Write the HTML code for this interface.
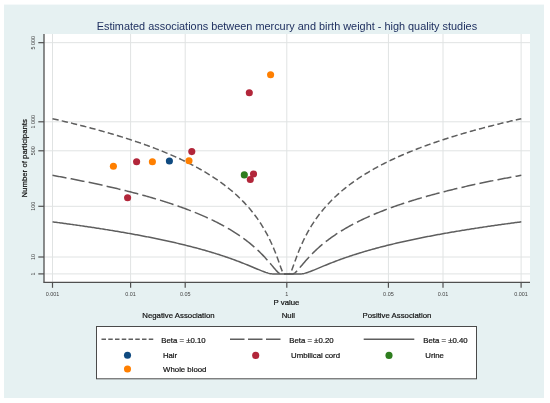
<!DOCTYPE html><html><head><meta charset="utf-8"><title>Albatross plot</title>
<style>html,body{margin:0;padding:0;background:#fff}svg{display:block}text{font-family:"Liberation Sans",Arial,sans-serif}</style></head><body>
<svg width="550" height="403" viewBox="0 0 550 403">
<rect x="0" y="0" width="550" height="403" fill="#ffffff"/>
<rect x="4" y="4.6" width="540" height="393.4" fill="#e6f1f2"/>
<rect x="44" y="34" width="486" height="248" fill="#ffffff"/>
<line x1="44" y1="273.90" x2="530" y2="273.90" stroke="#e0e3e3" stroke-width="1"/>
<line x1="44" y1="257.00" x2="530" y2="257.00" stroke="#e0e3e3" stroke-width="1"/>
<line x1="44" y1="206.30" x2="530" y2="206.30" stroke="#e0e3e3" stroke-width="1"/>
<line x1="44" y1="150.79" x2="530" y2="150.79" stroke="#e0e3e3" stroke-width="1"/>
<line x1="44" y1="121.80" x2="530" y2="121.80" stroke="#e0e3e3" stroke-width="1"/>
<line x1="44" y1="42.67" x2="530" y2="42.67" stroke="#e0e3e3" stroke-width="1"/>
<line x1="52.50" y1="34" x2="52.50" y2="282" stroke="#e0e3e3" stroke-width="1"/>
<line x1="130.60" y1="34" x2="130.60" y2="282" stroke="#e0e3e3" stroke-width="1"/>
<line x1="185.19" y1="34" x2="185.19" y2="282" stroke="#e0e3e3" stroke-width="1"/>
<line x1="286.80" y1="34" x2="286.80" y2="282" stroke="#e0e3e3" stroke-width="1"/>
<line x1="388.41" y1="34" x2="388.41" y2="282" stroke="#e0e3e3" stroke-width="1"/>
<line x1="443.00" y1="34" x2="443.00" y2="282" stroke="#e0e3e3" stroke-width="1"/>
<line x1="521.10" y1="34" x2="521.10" y2="282" stroke="#e0e3e3" stroke-width="1"/>
<path d="M52.50,118.73 L53.67,118.99 L54.84,119.25 L56.02,119.52 L57.19,119.79 L58.36,120.06 L59.53,120.33 L60.70,120.60 L61.88,120.87 L63.05,121.14 L64.22,121.42 L65.39,121.69 L66.56,121.97 L67.74,122.25 L68.91,122.53 L70.08,122.81 L71.25,123.10 L72.42,123.38 L73.60,123.67 L74.77,123.96 L75.94,124.24 L77.11,124.54 L78.28,124.83 L79.46,125.12 L80.63,125.42 L81.80,125.71 L82.97,126.01 L84.14,126.31 L85.32,126.61 L86.49,126.92 L87.66,127.22 L88.83,127.53 L90.00,127.84 L91.18,128.15 L92.35,128.46 L93.52,128.77 L94.69,129.09 L95.86,129.41 L97.04,129.73 L98.21,130.05 L99.38,130.37 L100.55,130.69 L101.72,131.02 L102.90,131.35 L104.07,131.68 L105.24,132.01 L106.41,132.35 L107.58,132.68 L108.76,133.02 L109.93,133.36 L111.10,133.71 L112.27,134.05 L113.44,134.40 L114.62,134.75 L115.79,135.10 L116.96,135.45 L118.13,135.81 L119.30,136.17 L120.48,136.53 L121.65,136.89 L122.82,137.26 L123.99,137.62 L125.16,137.99 L126.34,138.37 L127.51,138.74 L128.68,139.12 L129.85,139.50 L131.02,139.88 L132.20,140.27 L133.37,140.66 L134.54,141.05 L135.71,141.45 L136.88,141.84 L138.06,142.24 L139.23,142.65 L140.40,143.05 L141.57,143.46 L142.74,143.87 L143.92,144.29 L145.09,144.71 L146.26,145.13 L147.43,145.55 L148.60,145.98 L149.78,146.41 L150.95,146.85 L152.12,147.29 L153.29,147.73 L154.46,148.17 L155.64,148.62 L156.81,149.08 L157.98,149.53 L159.15,150.00 L160.32,150.46 L161.50,150.93 L162.67,151.40 L163.84,151.88 L165.01,152.36 L166.18,152.85 L167.36,153.34 L168.53,153.83 L169.70,154.33 L170.87,154.83 L172.04,155.34 L173.22,155.85 L174.39,156.37 L175.56,156.89 L176.73,157.42 L177.90,157.96 L179.08,158.49 L180.25,159.04 L181.42,159.59 L182.59,160.14 L183.76,160.71 L184.94,161.27 L186.11,161.84 L187.28,162.42 L188.45,163.01 L189.62,163.60 L190.80,164.20 L191.97,164.80 L193.14,165.42 L194.31,166.04 L195.48,166.66 L196.66,167.30 L197.83,167.94 L199.00,168.59 L200.17,169.24 L201.34,169.91 L202.52,170.58 L203.69,171.26 L204.86,171.95 L206.03,172.65 L207.20,173.36 L208.38,174.08 L209.55,174.81 L210.72,175.55 L211.89,176.29 L213.06,177.05 L214.24,177.82 L215.41,178.61 L216.58,179.40 L217.75,180.20 L218.92,181.02 L220.10,181.85 L221.27,182.69 L222.44,183.55 L223.61,184.42 L224.78,185.30 L225.96,186.20 L227.13,187.12 L228.30,188.05 L229.47,189.00 L230.64,189.96 L231.82,190.94 L232.99,191.94 L234.16,192.96 L235.33,194.00 L236.50,195.06 L237.68,196.14 L238.85,197.25 L240.02,198.37 L241.19,199.52 L242.36,200.70 L243.54,201.90 L244.71,203.13 L245.88,204.39 L247.05,205.68 L248.22,207.00 L249.40,208.36 L250.57,209.75 L251.74,211.17 L252.91,212.64 L254.08,214.14 L255.26,215.69 L256.43,217.29 L257.60,218.93 L258.77,220.62 L259.94,222.37 L261.12,224.18 L262.29,226.04 L263.46,227.97 L264.63,229.98 L265.80,232.05 L266.98,234.21 L268.15,236.45 L269.32,238.79 L270.49,241.22 L271.66,243.76 L272.84,246.41 L274.01,249.18 L275.18,252.07 L276.35,255.09 L277.52,258.23 L278.70,261.49 L279.87,264.81 L281.04,268.12 L282.21,271.20 L283.38,273.49 L284.56,273.90 L285.73,273.90 L286.90,273.90 L288.07,273.90 L289.24,273.90 L290.42,273.20 L291.59,270.71 L292.76,267.57 L293.93,264.24 L295.10,260.92 L296.28,257.69 L297.45,254.56 L298.62,251.57 L299.79,248.69 L300.96,245.95 L302.14,243.32 L303.31,240.80 L304.48,238.38 L305.65,236.06 L306.82,233.84 L308.00,231.69 L309.17,229.63 L310.34,227.64 L311.51,225.72 L312.68,223.86 L313.86,222.07 L315.03,220.33 L316.20,218.64 L317.37,217.01 L318.54,215.42 L319.72,213.88 L320.89,212.38 L322.06,210.93 L323.23,209.51 L324.40,208.12 L325.58,206.77 L326.75,205.46 L327.92,204.17 L329.09,202.92 L330.26,201.69 L331.44,200.50 L332.61,199.32 L333.78,198.18 L334.95,197.06 L336.12,195.96 L337.30,194.88 L338.47,193.82 L339.64,192.79 L340.81,191.77 L341.98,190.77 L343.16,189.79 L344.33,188.83 L345.50,187.89 L346.67,186.96 L347.84,186.05 L349.02,185.15 L350.19,184.27 L351.36,183.40 L352.53,182.55 L353.70,181.71 L354.88,180.88 L356.05,180.06 L357.22,179.26 L358.39,178.47 L359.56,177.69 L360.74,176.92 L361.91,176.17 L363.08,175.42 L364.25,174.68 L365.42,173.96 L366.60,173.24 L367.77,172.53 L368.94,171.83 L370.11,171.15 L371.28,170.47 L372.46,169.79 L373.63,169.13 L374.80,168.47 L375.97,167.83 L377.14,167.19 L378.32,166.55 L379.49,165.93 L380.66,165.31 L381.83,164.70 L383.00,164.10 L384.18,163.50 L385.35,162.91 L386.52,162.32 L387.69,161.75 L388.86,161.17 L390.04,160.61 L391.21,160.05 L392.38,159.49 L393.55,158.95 L394.72,158.40 L395.90,157.86 L397.07,157.33 L398.24,156.81 L399.41,156.28 L400.58,155.77 L401.76,155.25 L402.93,154.75 L404.10,154.24 L405.27,153.75 L406.44,153.25 L407.62,152.76 L408.79,152.28 L409.96,151.80 L411.13,151.32 L412.30,150.85 L413.48,150.38 L414.65,149.92 L415.82,149.46 L416.99,149.00 L418.16,148.55 L419.34,148.10 L420.51,147.65 L421.68,147.21 L422.85,146.77 L424.02,146.34 L425.20,145.91 L426.37,145.48 L427.54,145.06 L428.71,144.63 L429.88,144.22 L431.06,143.80 L432.23,143.39 L433.40,142.98 L434.57,142.58 L435.74,142.17 L436.92,141.77 L438.09,141.38 L439.26,140.98 L440.43,140.59 L441.60,140.20 L442.78,139.82 L443.95,139.44 L445.12,139.06 L446.29,138.68 L447.46,138.30 L448.64,137.93 L449.81,137.56 L450.98,137.19 L452.15,136.83 L453.32,136.47 L454.50,136.11 L455.67,135.75 L456.84,135.39 L458.01,135.04 L459.18,134.69 L460.36,134.34 L461.53,133.99 L462.70,133.65 L463.87,133.30 L465.04,132.96 L466.22,132.63 L467.39,132.29 L468.56,131.96 L469.73,131.62 L470.90,131.29 L472.08,130.97 L473.25,130.64 L474.42,130.31 L475.59,129.99 L476.76,129.67 L477.94,129.35 L479.11,129.04 L480.28,128.72 L481.45,128.41 L482.62,128.10 L483.80,127.79 L484.97,127.48 L486.14,127.17 L487.31,126.87 L488.48,126.56 L489.66,126.26 L490.83,125.96 L492.00,125.66 L493.17,125.37 L494.34,125.07 L495.52,124.78 L496.69,124.49 L497.86,124.20 L499.03,123.91 L500.20,123.62 L501.38,123.33 L502.55,123.05 L503.72,122.77 L504.89,122.48 L506.06,122.20 L507.24,121.92 L508.41,121.65 L509.58,121.37 L510.75,121.10 L511.92,120.82 L513.10,120.55 L514.27,120.28 L515.44,120.01 L516.61,119.74 L517.78,119.47 L518.96,119.21 L520.13,118.94 L521.30,118.68" fill="none" stroke="#5e5e5e" stroke-width="1.5" stroke-dasharray="6.3 3.2"/>
<path d="M52.50,175.36 L53.67,175.57 L54.84,175.78 L56.02,175.99 L57.19,176.20 L58.36,176.42 L59.53,176.63 L60.70,176.85 L61.88,177.06 L63.05,177.28 L64.22,177.50 L65.39,177.72 L66.56,177.94 L67.74,178.16 L68.91,178.38 L70.08,178.61 L71.25,178.83 L72.42,179.06 L73.60,179.29 L74.77,179.52 L75.94,179.74 L77.11,179.98 L78.28,180.21 L79.46,180.44 L80.63,180.67 L81.80,180.91 L82.97,181.15 L84.14,181.38 L85.32,181.62 L86.49,181.86 L87.66,182.10 L88.83,182.35 L90.00,182.59 L91.18,182.84 L92.35,183.08 L93.52,183.33 L94.69,183.58 L95.86,183.83 L97.04,184.08 L98.21,184.33 L99.38,184.59 L100.55,184.85 L101.72,185.10 L102.90,185.36 L104.07,185.62 L105.24,185.88 L106.41,186.15 L107.58,186.41 L108.76,186.68 L109.93,186.95 L111.10,187.22 L112.27,187.49 L113.44,187.76 L114.62,188.04 L115.79,188.31 L116.96,188.59 L118.13,188.87 L119.30,189.15 L120.48,189.43 L121.65,189.72 L122.82,190.00 L123.99,190.29 L125.16,190.58 L126.34,190.87 L127.51,191.17 L128.68,191.46 L129.85,191.76 L131.02,192.06 L132.20,192.36 L133.37,192.67 L134.54,192.97 L135.71,193.28 L136.88,193.59 L138.06,193.90 L139.23,194.21 L140.40,194.53 L141.57,194.85 L142.74,195.17 L143.92,195.49 L145.09,195.82 L146.26,196.15 L147.43,196.48 L148.60,196.81 L149.78,197.14 L150.95,197.48 L152.12,197.82 L153.29,198.16 L154.46,198.51 L155.64,198.86 L156.81,199.21 L157.98,199.56 L159.15,199.92 L160.32,200.28 L161.50,200.64 L162.67,201.00 L163.84,201.37 L165.01,201.74 L166.18,202.12 L167.36,202.49 L168.53,202.87 L169.70,203.26 L170.87,203.64 L172.04,204.04 L173.22,204.43 L174.39,204.83 L175.56,205.23 L176.73,205.63 L177.90,206.04 L179.08,206.45 L180.25,206.87 L181.42,207.29 L182.59,207.71 L183.76,208.14 L184.94,208.57 L186.11,209.01 L187.28,209.45 L188.45,209.89 L189.62,210.34 L190.80,210.80 L191.97,211.25 L193.14,211.72 L194.31,212.19 L195.48,212.66 L196.66,213.14 L197.83,213.62 L199.00,214.11 L200.17,214.61 L201.34,215.11 L202.52,215.61 L203.69,216.12 L204.86,216.64 L206.03,217.17 L207.20,217.70 L208.38,218.23 L209.55,218.78 L210.72,219.33 L211.89,219.88 L213.06,220.45 L214.24,221.02 L215.41,221.60 L216.58,222.19 L217.75,222.78 L218.92,223.38 L220.10,224.00 L221.27,224.62 L222.44,225.24 L223.61,225.88 L224.78,226.53 L225.96,227.19 L227.13,227.85 L228.30,228.53 L229.47,229.22 L230.64,229.92 L231.82,230.63 L232.99,231.35 L234.16,232.08 L235.33,232.83 L236.50,233.59 L237.68,234.36 L238.85,235.15 L240.02,235.95 L241.19,236.76 L242.36,237.59 L243.54,238.44 L244.71,239.30 L245.88,240.18 L247.05,241.07 L248.22,241.99 L249.40,242.92 L250.57,243.87 L251.74,244.85 L252.91,245.84 L254.08,246.86 L255.26,247.90 L256.43,248.96 L257.60,250.04 L258.77,251.15 L259.94,252.29 L261.12,253.46 L262.29,254.65 L263.46,255.86 L264.63,257.11 L265.80,258.39 L266.98,259.69 L268.15,261.02 L269.32,262.37 L270.49,263.75 L271.66,265.14 L272.84,266.54 L274.01,267.93 L275.18,269.31 L276.35,270.63 L277.52,271.86 L278.70,272.91 L279.87,273.67 L281.04,273.90 L282.21,273.90 L283.38,273.90 L284.56,273.90 L285.73,273.90 L286.90,273.90 L288.07,273.90 L289.24,273.90 L290.42,273.90 L291.59,273.90 L292.76,273.90 L293.93,273.57 L295.10,272.75 L296.28,271.66 L297.45,270.41 L298.62,269.08 L299.79,267.70 L300.96,266.30 L302.14,264.90 L303.31,263.51 L304.48,262.14 L305.65,260.79 L306.82,259.46 L308.00,258.17 L309.17,256.90 L310.34,255.65 L311.51,254.44 L312.68,253.25 L313.86,252.10 L315.03,250.96 L316.20,249.86 L317.37,248.77 L318.54,247.72 L319.72,246.68 L320.89,245.67 L322.06,244.68 L323.23,243.71 L324.40,242.76 L325.58,241.83 L326.75,240.92 L327.92,240.03 L329.09,239.15 L330.26,238.29 L331.44,237.45 L332.61,236.62 L333.78,235.81 L334.95,235.01 L336.12,234.23 L337.30,233.46 L338.47,232.70 L339.64,231.96 L340.81,231.23 L341.98,230.51 L343.16,229.80 L344.33,229.10 L345.50,228.41 L346.67,227.74 L347.84,227.07 L349.02,226.42 L350.19,225.77 L351.36,225.14 L352.53,224.51 L353.70,223.89 L354.88,223.28 L356.05,222.68 L357.22,222.09 L358.39,221.50 L359.56,220.92 L360.74,220.35 L361.91,219.79 L363.08,219.23 L364.25,218.68 L365.42,218.14 L366.60,217.61 L367.77,217.08 L368.94,216.55 L370.11,216.04 L371.28,215.53 L372.46,215.02 L373.63,214.52 L374.80,214.03 L375.97,213.54 L377.14,213.06 L378.32,212.58 L379.49,212.11 L380.66,211.64 L381.83,211.18 L383.00,210.72 L384.18,210.26 L385.35,209.82 L386.52,209.37 L387.69,208.93 L388.86,208.50 L390.04,208.07 L391.21,207.64 L392.38,207.22 L393.55,206.80 L394.72,206.38 L395.90,205.97 L397.07,205.56 L398.24,205.16 L399.41,204.76 L400.58,204.36 L401.76,203.97 L402.93,203.58 L404.10,203.19 L405.27,202.81 L406.44,202.43 L407.62,202.05 L408.79,201.68 L409.96,201.31 L411.13,200.94 L412.30,200.58 L413.48,200.22 L414.65,199.86 L415.82,199.50 L416.99,199.15 L418.16,198.80 L419.34,198.45 L420.51,198.11 L421.68,197.76 L422.85,197.42 L424.02,197.09 L425.20,196.75 L426.37,196.42 L427.54,196.09 L428.71,195.76 L429.88,195.44 L431.06,195.12 L432.23,194.80 L433.40,194.48 L434.57,194.16 L435.74,193.85 L436.92,193.54 L438.09,193.23 L439.26,192.92 L440.43,192.61 L441.60,192.31 L442.78,192.01 L443.95,191.71 L445.12,191.41 L446.29,191.12 L447.46,190.82 L448.64,190.53 L449.81,190.24 L450.98,189.95 L452.15,189.67 L453.32,189.38 L454.50,189.10 L455.67,188.82 L456.84,188.54 L458.01,188.26 L459.18,187.99 L460.36,187.71 L461.53,187.44 L462.70,187.17 L463.87,186.90 L465.04,186.63 L466.22,186.37 L467.39,186.10 L468.56,185.84 L469.73,185.58 L470.90,185.32 L472.08,185.06 L473.25,184.80 L474.42,184.55 L475.59,184.29 L476.76,184.04 L477.94,183.79 L479.11,183.54 L480.28,183.29 L481.45,183.04 L482.62,182.79 L483.80,182.55 L484.97,182.30 L486.14,182.06 L487.31,181.82 L488.48,181.58 L489.66,181.34 L490.83,181.11 L492.00,180.87 L493.17,180.63 L494.34,180.40 L495.52,180.17 L496.69,179.94 L497.86,179.71 L499.03,179.48 L500.20,179.25 L501.38,179.02 L502.55,178.79 L503.72,178.57 L504.89,178.35 L506.06,178.12 L507.24,177.90 L508.41,177.68 L509.58,177.46 L510.75,177.24 L511.92,177.03 L513.10,176.81 L514.27,176.59 L515.44,176.38 L516.61,176.17 L517.78,175.95 L518.96,175.74 L520.13,175.53 L521.30,175.32" fill="none" stroke="#5e5e5e" stroke-width="1.5" stroke-dasharray="14.2 4.2"/>
<path d="M52.50,221.87 L53.67,222.02 L54.84,222.17 L56.02,222.33 L57.19,222.48 L58.36,222.63 L59.53,222.79 L60.70,222.95 L61.88,223.10 L63.05,223.26 L64.22,223.42 L65.39,223.58 L66.56,223.74 L67.74,223.90 L68.91,224.06 L70.08,224.22 L71.25,224.38 L72.42,224.55 L73.60,224.71 L74.77,224.88 L75.94,225.04 L77.11,225.21 L78.28,225.37 L79.46,225.54 L80.63,225.71 L81.80,225.88 L82.97,226.05 L84.14,226.22 L85.32,226.39 L86.49,226.56 L87.66,226.74 L88.83,226.91 L90.00,227.08 L91.18,227.26 L92.35,227.44 L93.52,227.61 L94.69,227.79 L95.86,227.97 L97.04,228.15 L98.21,228.33 L99.38,228.51 L100.55,228.70 L101.72,228.88 L102.90,229.06 L104.07,229.25 L105.24,229.43 L106.41,229.62 L107.58,229.81 L108.76,230.00 L109.93,230.19 L111.10,230.38 L112.27,230.57 L113.44,230.77 L114.62,230.96 L115.79,231.15 L116.96,231.35 L118.13,231.55 L119.30,231.75 L120.48,231.95 L121.65,232.15 L122.82,232.35 L123.99,232.55 L125.16,232.76 L126.34,232.96 L127.51,233.17 L128.68,233.37 L129.85,233.58 L131.02,233.79 L132.20,234.00 L133.37,234.22 L134.54,234.43 L135.71,234.64 L136.88,234.86 L138.06,235.08 L139.23,235.30 L140.40,235.52 L141.57,235.74 L142.74,235.96 L143.92,236.18 L145.09,236.41 L146.26,236.64 L147.43,236.87 L148.60,237.10 L149.78,237.33 L150.95,237.56 L152.12,237.79 L153.29,238.03 L154.46,238.27 L155.64,238.51 L156.81,238.75 L157.98,238.99 L159.15,239.23 L160.32,239.48 L161.50,239.73 L162.67,239.98 L163.84,240.23 L165.01,240.48 L166.18,240.73 L167.36,240.99 L168.53,241.25 L169.70,241.51 L170.87,241.77 L172.04,242.03 L173.22,242.30 L174.39,242.57 L175.56,242.84 L176.73,243.11 L177.90,243.38 L179.08,243.66 L180.25,243.94 L181.42,244.22 L182.59,244.50 L183.76,244.78 L184.94,245.07 L186.11,245.36 L187.28,245.65 L188.45,245.95 L189.62,246.24 L190.80,246.54 L191.97,246.85 L193.14,247.15 L194.31,247.46 L195.48,247.77 L196.66,248.08 L197.83,248.39 L199.00,248.71 L200.17,249.03 L201.34,249.36 L202.52,249.68 L203.69,250.01 L204.86,250.34 L206.03,250.68 L207.20,251.02 L208.38,251.36 L209.55,251.71 L210.72,252.05 L211.89,252.41 L213.06,252.76 L214.24,253.12 L215.41,253.48 L216.58,253.85 L217.75,254.22 L218.92,254.59 L220.10,254.97 L221.27,255.35 L222.44,255.74 L223.61,256.13 L224.78,256.52 L225.96,256.92 L227.13,257.32 L228.30,257.72 L229.47,258.13 L230.64,258.55 L231.82,258.96 L232.99,259.39 L234.16,259.81 L235.33,260.25 L236.50,260.68 L237.68,261.12 L238.85,261.57 L240.02,262.02 L241.19,262.47 L242.36,262.93 L243.54,263.39 L244.71,263.86 L245.88,264.33 L247.05,264.80 L248.22,265.28 L249.40,265.76 L250.57,266.25 L251.74,266.74 L252.91,267.22 L254.08,267.72 L255.26,268.21 L256.43,268.70 L257.60,269.19 L258.77,269.67 L259.94,270.16 L261.12,270.63 L262.29,271.10 L263.46,271.55 L264.63,271.98 L265.80,272.40 L266.98,272.78 L268.15,273.13 L269.32,273.43 L270.49,273.68 L271.66,273.84 L272.84,273.90 L274.01,273.90 L275.18,273.90 L276.35,273.90 L277.52,273.90 L278.70,273.90 L279.87,273.90 L281.04,273.90 L282.21,273.90 L283.38,273.90 L284.56,273.90 L285.73,273.90 L286.90,273.90 L288.07,273.90 L289.24,273.90 L290.42,273.90 L291.59,273.90 L292.76,273.90 L293.93,273.90 L295.10,273.90 L296.28,273.90 L297.45,273.90 L298.62,273.90 L299.79,273.90 L300.96,273.90 L302.14,273.82 L303.31,273.64 L304.48,273.39 L305.65,273.08 L306.82,272.72 L308.00,272.33 L309.17,271.91 L310.34,271.47 L311.51,271.02 L312.68,270.55 L313.86,270.07 L315.03,269.59 L316.20,269.10 L317.37,268.61 L318.54,268.12 L319.72,267.63 L320.89,267.14 L322.06,266.65 L323.23,266.17 L324.40,265.68 L325.58,265.20 L326.75,264.72 L327.92,264.25 L329.09,263.78 L330.26,263.31 L331.44,262.85 L332.61,262.39 L333.78,261.94 L334.95,261.49 L336.12,261.05 L337.30,260.61 L338.47,260.17 L339.64,259.74 L340.81,259.31 L341.98,258.89 L343.16,258.47 L344.33,258.06 L345.50,257.65 L346.67,257.25 L347.84,256.85 L349.02,256.45 L350.19,256.06 L351.36,255.67 L352.53,255.29 L353.70,254.91 L354.88,254.53 L356.05,254.16 L357.22,253.79 L358.39,253.42 L359.56,253.06 L360.74,252.70 L361.91,252.35 L363.08,251.99 L364.25,251.65 L365.42,251.30 L366.60,250.96 L367.77,250.62 L368.94,250.29 L370.11,249.96 L371.28,249.63 L372.46,249.30 L373.63,248.98 L374.80,248.66 L375.97,248.34 L377.14,248.02 L378.32,247.71 L379.49,247.40 L380.66,247.10 L381.83,246.79 L383.00,246.49 L384.18,246.19 L385.35,245.90 L386.52,245.60 L387.69,245.31 L388.86,245.02 L390.04,244.74 L391.21,244.45 L392.38,244.17 L393.55,243.89 L394.72,243.61 L395.90,243.34 L397.07,243.06 L398.24,242.79 L399.41,242.52 L400.58,242.25 L401.76,241.99 L402.93,241.72 L404.10,241.46 L405.27,241.20 L406.44,240.95 L407.62,240.69 L408.79,240.44 L409.96,240.18 L411.13,239.93 L412.30,239.68 L413.48,239.44 L414.65,239.19 L415.82,238.95 L416.99,238.71 L418.16,238.47 L419.34,238.23 L420.51,237.99 L421.68,237.75 L422.85,237.52 L424.02,237.29 L425.20,237.06 L426.37,236.83 L427.54,236.60 L428.71,236.37 L429.88,236.15 L431.06,235.92 L432.23,235.70 L433.40,235.48 L434.57,235.26 L435.74,235.04 L436.92,234.82 L438.09,234.61 L439.26,234.39 L440.43,234.18 L441.60,233.97 L442.78,233.76 L443.95,233.55 L445.12,233.34 L446.29,233.13 L447.46,232.93 L448.64,232.72 L449.81,232.52 L450.98,232.31 L452.15,232.11 L453.32,231.91 L454.50,231.71 L455.67,231.51 L456.84,231.32 L458.01,231.12 L459.18,230.93 L460.36,230.73 L461.53,230.54 L462.70,230.35 L463.87,230.16 L465.04,229.97 L466.22,229.78 L467.39,229.59 L468.56,229.40 L469.73,229.22 L470.90,229.03 L472.08,228.85 L473.25,228.66 L474.42,228.48 L475.59,228.30 L476.76,228.12 L477.94,227.94 L479.11,227.76 L480.28,227.58 L481.45,227.41 L482.62,227.23 L483.80,227.05 L484.97,226.88 L486.14,226.71 L487.31,226.53 L488.48,226.36 L489.66,226.19 L490.83,226.02 L492.00,225.85 L493.17,225.68 L494.34,225.51 L495.52,225.35 L496.69,225.18 L497.86,225.01 L499.03,224.85 L500.20,224.68 L501.38,224.52 L502.55,224.36 L503.72,224.19 L504.89,224.03 L506.06,223.87 L507.24,223.71 L508.41,223.55 L509.58,223.39 L510.75,223.23 L511.92,223.08 L513.10,222.92 L514.27,222.76 L515.44,222.61 L516.61,222.45 L517.78,222.30 L518.96,222.15 L520.13,221.99 L521.30,221.84" fill="none" stroke="#5e5e5e" stroke-width="1.5"/>
<circle cx="113.4" cy="166.2" r="3.55" fill="#ff7f00"/>
<circle cx="136.6" cy="161.8" r="3.55" fill="#b2263a"/>
<circle cx="152.4" cy="161.8" r="3.55" fill="#ff7f00"/>
<circle cx="169.4" cy="161" r="3.55" fill="#0f4a80"/>
<circle cx="189" cy="160.8" r="3.55" fill="#ff7f00"/>
<circle cx="191.8" cy="151.6" r="3.55" fill="#b2263a"/>
<circle cx="127.6" cy="197.8" r="3.55" fill="#b2263a"/>
<circle cx="244.3" cy="174.9" r="3.55" fill="#2e7d1e"/>
<circle cx="253.5" cy="174" r="3.55" fill="#b2263a"/>
<circle cx="250.3" cy="179.5" r="3.55" fill="#b2263a"/>
<circle cx="249.3" cy="92.8" r="3.55" fill="#b2263a"/>
<circle cx="270.6" cy="74.8" r="3.55" fill="#ff7f00"/>
<line x1="44" y1="34" x2="44" y2="282.7" stroke="#505050" stroke-width="1.3"/>
<line x1="43.5" y1="282.3" x2="530" y2="282.3" stroke="#505050" stroke-width="1.3"/>
<line x1="38.3" y1="273.90" x2="44" y2="273.90" stroke="#505050" stroke-width="1.2"/>
<text transform="translate(35.4,273.90) rotate(-90)" text-anchor="middle" font-size="5.45" fill="#444">1</text>
<line x1="38.3" y1="257.00" x2="44" y2="257.00" stroke="#505050" stroke-width="1.2"/>
<text transform="translate(35.4,257.00) rotate(-90)" text-anchor="middle" font-size="5.45" fill="#444">10</text>
<line x1="38.3" y1="206.30" x2="44" y2="206.30" stroke="#505050" stroke-width="1.2"/>
<text transform="translate(35.4,206.30) rotate(-90)" text-anchor="middle" font-size="5.45" fill="#444">100</text>
<line x1="38.3" y1="150.79" x2="44" y2="150.79" stroke="#505050" stroke-width="1.2"/>
<text transform="translate(35.4,150.79) rotate(-90)" text-anchor="middle" font-size="5.45" fill="#444">500</text>
<line x1="38.3" y1="121.80" x2="44" y2="121.80" stroke="#505050" stroke-width="1.2"/>
<text transform="translate(35.4,121.80) rotate(-90)" text-anchor="middle" font-size="5.45" fill="#444">1 000</text>
<line x1="38.3" y1="42.67" x2="44" y2="42.67" stroke="#505050" stroke-width="1.2"/>
<text transform="translate(35.4,42.67) rotate(-90)" text-anchor="middle" font-size="5.45" fill="#444">5 000</text>
<line x1="52.50" y1="282.3" x2="52.50" y2="287.8" stroke="#505050" stroke-width="1.2"/>
<text x="52.50" y="296.1" text-anchor="middle" font-size="5.45" fill="#444">0.001</text>
<line x1="130.60" y1="282.3" x2="130.60" y2="287.8" stroke="#505050" stroke-width="1.2"/>
<text x="130.60" y="296.1" text-anchor="middle" font-size="5.45" fill="#444">0.01</text>
<line x1="185.19" y1="282.3" x2="185.19" y2="287.8" stroke="#505050" stroke-width="1.2"/>
<text x="185.19" y="296.1" text-anchor="middle" font-size="5.45" fill="#444">0.05</text>
<line x1="286.80" y1="282.3" x2="286.80" y2="287.8" stroke="#505050" stroke-width="1.2"/>
<text x="286.80" y="296.1" text-anchor="middle" font-size="5.45" fill="#444">1</text>
<line x1="388.41" y1="282.3" x2="388.41" y2="287.8" stroke="#505050" stroke-width="1.2"/>
<text x="388.41" y="296.1" text-anchor="middle" font-size="5.45" fill="#444">0.05</text>
<line x1="443.00" y1="282.3" x2="443.00" y2="287.8" stroke="#505050" stroke-width="1.2"/>
<text x="443.00" y="296.1" text-anchor="middle" font-size="5.45" fill="#444">0.01</text>
<line x1="521.10" y1="282.3" x2="521.10" y2="287.8" stroke="#505050" stroke-width="1.2"/>
<text x="521.10" y="296.1" text-anchor="middle" font-size="5.45" fill="#444">0.001</text>
<text x="286.9" y="30" text-anchor="middle" font-size="10.9" fill="#1f3060" textLength="380.4" lengthAdjust="spacing">Estimated associations between mercury and birth weight - high quality studies</text>
<text transform="translate(27.1,158.3) rotate(-90)" text-anchor="middle" font-size="7.8" fill="#111" stroke="#111" stroke-width="0.2">Number of participants</text>
<text x="286.5" y="305" text-anchor="middle" font-size="7.8" fill="#111" stroke="#111" stroke-width="0.2">P value</text>
<text x="178.5" y="318.2" text-anchor="middle" font-size="7.8" fill="#111" stroke="#111" stroke-width="0.2">Negative Association</text>
<text x="288.4" y="318.2" text-anchor="middle" font-size="7.8" fill="#111" stroke="#111" stroke-width="0.2">Null</text>
<text x="397" y="318.2" text-anchor="middle" font-size="7.8" fill="#111" stroke="#111" stroke-width="0.2">Positive Association</text>
<rect x="96.5" y="326.5" width="380" height="52.3" fill="#ffffff" stroke="#4a4a4a" stroke-width="1"/>
<line x1="101.5" y1="339.2" x2="153.3" y2="339.2" stroke="#5e5e5e" stroke-width="1.5" stroke-dasharray="4.5 2.25"/>
<line x1="230" y1="339.2" x2="280.5" y2="339.2" stroke="#5e5e5e" stroke-width="1.5" stroke-dasharray="14.5 3.5"/>
<line x1="363.7" y1="339.2" x2="414.3" y2="339.2" stroke="#5e5e5e" stroke-width="1.5"/>
<text x="161.3" y="342.9" font-size="7.8" fill="#111" stroke="#111" stroke-width="0.2">Beta = ±0.10</text>
<text x="289.2" y="342.9" font-size="7.8" fill="#111" stroke="#111" stroke-width="0.2">Beta = ±0.20</text>
<text x="423.3" y="342.9" font-size="7.8" fill="#111" stroke="#111" stroke-width="0.2">Beta = ±0.40</text>
<circle cx="127.5" cy="355.3" r="3.55" fill="#0f4a80"/>
<circle cx="255.7" cy="355.4" r="3.55" fill="#b2263a"/>
<circle cx="389" cy="355.4" r="3.55" fill="#2e7d1e"/>
<circle cx="127.5" cy="369" r="3.55" fill="#ff7f00"/>
<text x="162.9" y="358.3" font-size="7.8" fill="#111" stroke="#111" stroke-width="0.2">Hair</text>
<text x="291.1" y="358.3" font-size="7.8" fill="#111" stroke="#111" stroke-width="0.2">Umbilical cord</text>
<text x="425.3" y="358.3" font-size="7.8" fill="#111" stroke="#111" stroke-width="0.2">Urine</text>
<text x="163.1" y="372.2" font-size="7.8" fill="#111" stroke="#111" stroke-width="0.2">Whole blood</text>
</svg></body></html>
